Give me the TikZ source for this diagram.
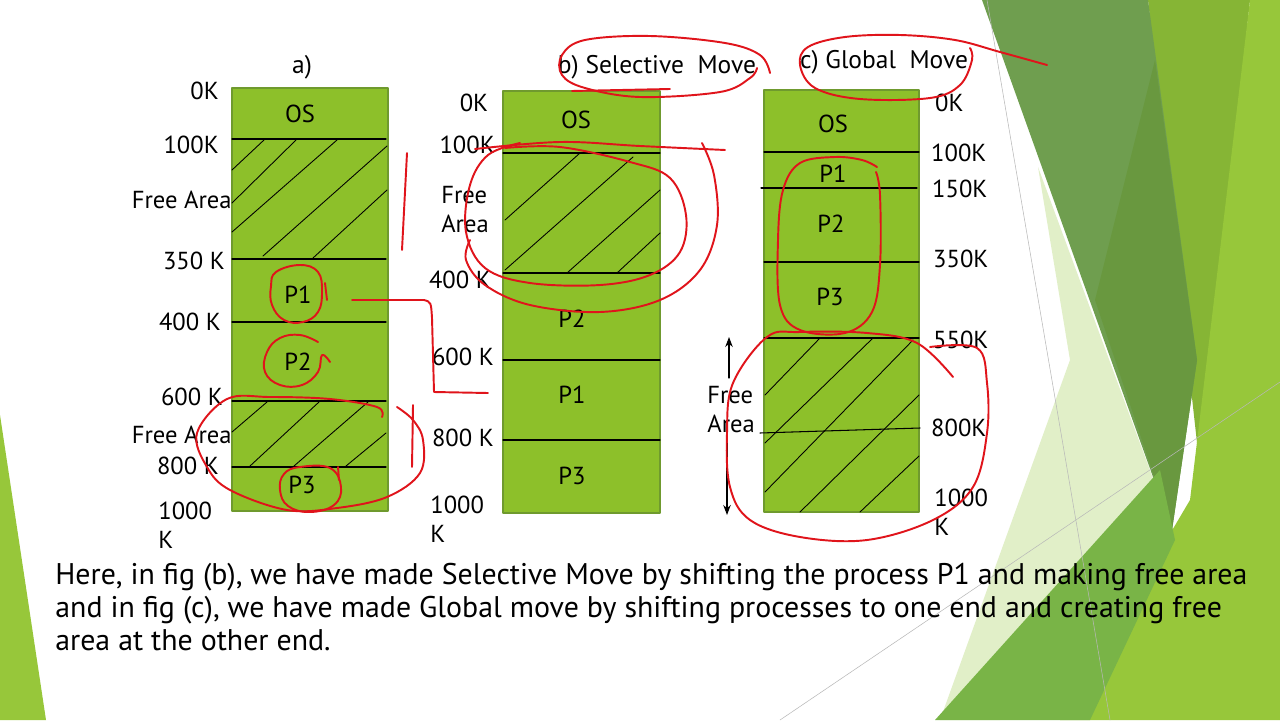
\documentclass[tikz,border=0pt]{standalone}
\usepackage{fontspec}
\setmainfont{PT Sans}
\usetikzlibrary{arrows.meta}
\definecolor{verdebarra}{HTML}{8DC02A}
\definecolor{borde}{HTML}{6F9A2E}
\definecolor{tinta}{HTML}{E0141B}
\definecolor{oscuro}{HTML}{6F9E4F}
\definecolor{oscuro2}{HTML}{69983F}
\definecolor{medio}{HTML}{86B535}
\definecolor{claro}{HTML}{97C73A}
\definecolor{palido}{HTML}{E1EFC8}
\definecolor{pasto}{HTML}{79B447}
\definecolor{gris}{HTML}{B8B8B8}

\begin{document}
\begin{tikzpicture}[x=0.02cm, y=-0.02cm, >=Stealth, line cap=round, line join=round,
  font=\fontsize{14}{16.5}\selectfont,
  memoria/.style={fill=verdebarra, draw=borde, line width=0.8pt},
  division/.style={black, line width=0.6pt},
  rayado/.style={black, line width=0.5pt},
  trazo/.style={tinta, line width=1.1pt}]
  \useasboundingbox (0,0) rectangle (1280,720);
  \fill[white] (0,0) rectangle (1280,720);

  % Fondo de la diapositiva
  \fill[claro] (0,415) -- (46,720) -- (0,720) -- cycle;
  \fill[palido] (1038,167) -- (1172,530) -- (1000,720) -- (940,720) -- (1070,360) -- cycle;
  \fill[medio] (1148,0) -- (1250,0) -- (1200,470) -- cycle;
  \fill[claro] (1250,0) -- (1280,0) -- (1280,720) -- (1060,720) -- (1190,500) -- cycle;
  \fill[oscuro] (982,0) -- (1148,0) -- (1197,360) -- (1172,530) -- cycle;
  \fill[oscuro2] (1155,60) -- (1197,360) -- (1172,530) -- (1095,300) -- cycle;
  \fill[pasto] (935,720) -- (1160,470) -- (1175,540) -- (1090,720) -- cycle;
  \draw[gris, line width=0.3pt] (987,0) -- (1110,720);
  \draw[gris, line width=0.3pt] (780,720) -- (1280,382);

  % a) memoria inicial
  \node[font=\fontsize{14.5}{17}\selectfont] (titA) at (302,67) {a)};
  \draw[memoria] (232,88) rectangle (388,511);
  \foreach \y in {139,259,322,401,467} \draw[division] (232,\y) -- (386,\y);
  \draw[rayado] (232,170) -- (264,140);
  \draw[rayado] (232,203) -- (296,140);
  \draw[rayado] (232,232) -- (337,140);
  \draw[rayado] (263,256) -- (387,146);
  \draw[rayado] (313,258) -- (387,190);
  \draw[rayado] (232,432) -- (267,402);
  \draw[rayado] (250,466) -- (319,402);
  \draw[rayado] (294,466) -- (368,402);
  \draw[rayado] (346,466) -- (386,433);
  \node (osA) at (300,114) {OS};
  \node (p1A) at (298,295) {P1};
  \node (p2A) at (298,362) {P2};
  \node (p3A) at (302,485) {P3};
  \node[anchor=east] (a0) at (225,91) {0K};
  \node[anchor=east] (a100) at (225,145) {100K};
  \node[anchor=east, inner xsep=0pt] (libreA1) at (232,200) {Free Area};
  \node[anchor=east] (a350) at (231,261) {350 K};
  \node[anchor=east] (a400) at (227,322) {400 K};
  \node[anchor=east] (a600) at (229,397) {600 K};
  \node[anchor=east, inner xsep=0pt] (libreA2) at (232,435) {Free Area};
  \node[anchor=east] (a800) at (225,466) {800 K};
  \node[anchor=north west, align=left, inner sep=0pt] (a1000) at (158,502) {1000\\K};

  % b) movimiento selectivo
  \node[font=\fontsize{14.5}{17}\selectfont] (titB) at (657,67) {b) Selective~ Move};
  \draw[memoria] (503,91) rectangle (660,513);
  \foreach \y in {153,273,360,440} \draw[division] (503,\y) -- (660,\y);
  \draw[rayado] (505,220) -- (580,153);
  \draw[rayado] (505,270) -- (633,157);
  \draw[rayado] (567,273) -- (660,190);
  \draw[rayado] (617,273) -- (660,233);
  \node (osB) at (576,120) {OS};
  \node (p2B) at (572,319) {P2};
  \node (p1B) at (572,395) {P1};
  \node (p3B) at (572,476) {P3};
  \node (b0) at (474,103) {0K};
  \node[anchor=east] (b100) at (501,145) {100K};
  \node[anchor=north west, align=left, inner sep=0pt] (libreB) at (441,186) {Free\\Area};
  \node[anchor=east] (b400) at (497,280) {400 K};
  \node[anchor=east] (b600) at (500,357) {600 K};
  \node[anchor=east] (b800) at (500,438) {800 K};
  \node[anchor=north west, align=left, inner sep=0pt] (b1000) at (430,496) {1000\\K};

  % c) movimiento global
  \node[font=\fontsize{14.5}{17}\selectfont] (titC) at (884,62) {c) Global~ Move};
  \draw[memoria] (764,90) rectangle (919,512);
  \foreach \y in {152,262,338} \draw[division] (764,\y) -- (919,\y);
  \draw[division] (761,188) -- (917,188);
  \draw[division] (760,433) -- (920,428);
  \draw[rayado] (765,395) -- (820,338);
  \draw[rayado] (765,443) -- (873,338);
  \draw[rayado] (765,492) -- (913,340);
  \draw[rayado] (800,512) -- (919,395);
  \draw[rayado] (860,512) -- (919,456);
  \node (osC) at (833,124) {OS};
  \node (p1C) at (833,174) {P1};
  \node (p2C) at (831,224) {P2};
  \node (p3C) at (830,297) {P3};
  \node[anchor=west] (c0) at (929,103) {0K};
  \node[anchor=west] (c100) at (925,153) {100K};
  \node[anchor=west] (c150) at (926,189) {150K};
  \node[anchor=west] (c350) at (927,259) {350K};
  \node[anchor=west] (c550) at (927,340) {550K};
  \node[anchor=west] (c800) at (925,428) {800K};
  \node[anchor=north west, align=left, inner sep=0pt] (c1000) at (934,489) {1000\\K};
  \node[anchor=north west, align=left, inner sep=0pt] (libreC) at (707,386) {Free\\Area};
  \coordinate (flechaArr) at (729,378);
  \coordinate (flechaAba) at (727,440);
  \draw[->, line width=0.6pt] (flechaArr) -- (729,337);
  \draw[->, line width=0.6pt] (flechaAba) -- (727,515);

  % Texto explicativo
  \node[anchor=north west, align=left, inner sep=0pt, font=\fontsize{17}{18.7}\selectfont] (texto) at (55,563)
    {Here, in fig (b), we have made Selective Move by shifting the process P1 and making free area\\
     and in fig (c), we have made Global move by shifting processes to one end and creating free\\
     area at the other end.};

  % Anotaciones a mano
  \draw[trazo] plot[smooth cycle, tension=0.7] coordinates {(276,272) (300,265) (318,272) (322,292) (318,312) (303,322) (284,320) (272,305) (271,286)};
  \draw[trazo] (325,283) -- (327,300);
  \draw[trazo] plot[smooth, tension=0.7] coordinates {(318,342) (300,335) (280,338) (267,352) (265,372) (280,385) (302,385) (318,372) (322,355) (330,362)};
  \draw[trazo] plot[smooth cycle, tension=0.7] coordinates {(284,474) (300,467) (330,468) (341,487) (334,505) (310,512) (288,506) (280,490)};
  \draw[trazo] (338,467) -- (339,480);
  \draw[trazo] plot[smooth, tension=0.6] coordinates {(382,417) (377,407) (330,399) (270,397) (227,399) (197,433) (207,467) (230,490) (287,510) (337,508) (387,497) (420,473) (423,440) (413,420) (397,407)};
  \draw[trazo] (407,153) -- (402,250);
  \draw[trazo] (413,405) -- (412,467);
  \coordinate (salida) at (352,300);
  \coordinate (llegada) at (488,393);
  \draw[trazo] (salida) -- (424,300) .. controls (431,302) .. (432,318) -- (434,392) -- (llegada);

  \draw[trazo] plot[smooth, tension=0.6] coordinates {(770,73) (760,55) (725,43) (650,36) (585,40) (562,55) (562,75) (585,88) (640,97) (720,92) (750,78) (757,68)};
  \draw[trazo] (572,91) -- (670,89);
  \draw[trazo] plot[smooth, tension=0.6] coordinates {(505,148) (560,147) (630,162) (670,178) (686,215) (680,252) (650,275) (600,285) (530,283) (485,268) (466,232) (470,185) (488,155) (520,143)};
  \draw[trazo] plot[smooth, tension=0.6] coordinates {(475,149) (560,142) (640,146) (725,150)};
  \draw[trazo] plot[smooth, tension=0.6] coordinates {(702,143) (714,175) (717,225) (700,270) (660,300) (600,312) (530,305) (485,285) (466,260) (470,240)};

  \draw[trazo] plot[smooth, tension=0.6] coordinates {(1047,65) (1000,52) (955,40) (900,35) (845,37) (808,47) (800,65) (815,88) (860,99) (930,98) (960,85) (972,60) (970,48)};
  \draw[trazo] plot[smooth, tension=0.6] coordinates {(877,167) (862,160) (835,157) (800,163) (783,190) (778,240) (780,305) (800,330) (845,333) (872,312) (880,265) (880,195) (876,172)};
  \draw[trazo] plot[smooth, tension=0.6] coordinates {(930,347) (977,348) (987,383) (987,433) (973,487) (933,520) (867,540) (800,537) (750,520) (730,487) (727,433) (733,383) (767,337) (800,332) (867,333) (917,343) (953,377)};
\end{tikzpicture}
\end{document}
